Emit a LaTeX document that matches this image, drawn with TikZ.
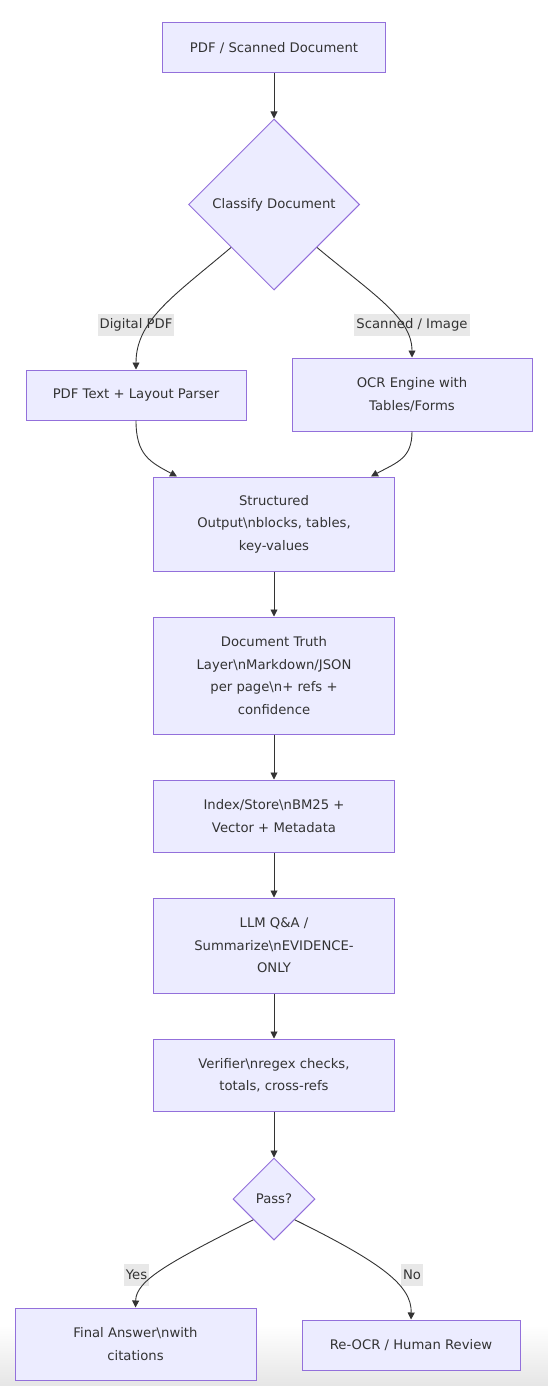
\documentclass[tikz,border=0pt]{standalone}
\usepackage{fontspec}
\setmainfont{DejaVu Sans}
\usetikzlibrary{shapes.geometric,arrows.meta}
\definecolor{nodefill}{HTML}{ECECFF}
\definecolor{nodeline}{HTML}{9370DB}
\definecolor{edgecol}{HTML}{333333}
\definecolor{labelbg}{HTML}{E8E8E8}
\tikzset{
  box/.style={draw=nodeline, fill=nodefill, line width=1pt, rectangle, align=center,
    inner sep=0pt, text=edgecol},
  dia/.style={draw=nodeline, fill=nodefill, line width=1pt, diamond, inner sep=0pt, text=edgecol},
  elabel/.style={fill=labelbg, text=edgecol, inner xsep=2pt, inner ysep=0pt, minimum height=22pt},
  edge/.style={draw=edgecol, line width=0.9pt, -{Triangle[length=7pt,width=7pt]}},
}
\begin{document}
\begin{tikzpicture}[x=1pt,y=-1pt, font=\fontsize{13.2}{22.5}\selectfont]
\useasboundingbox (0,0) rectangle (548,1386);
\shade[top color=white, bottom color=black!10] (0,1325) rectangle (548,1386);

\node[box, minimum width=223pt, minimum height=50pt] (A) at (274,48) {PDF / Scanned Document};
\node[dia, minimum width=171pt, minimum height=171pt] (cls) at (274,204.5) {Classify Document};
\node[box, minimum width=220pt, minimum height=50pt] (B) at (136,395) {PDF Text + Layout Parser};
\node[box, minimum width=240pt, minimum height=73pt] (C) at (412,394.5) {OCR Engine with\\Tables/Forms};
\node[box, minimum width=241pt, minimum height=94pt] (D) at (274,524) {Structured\\Output\textbackslash{}nblocks, tables,\\key-values};
\node[box, minimum width=241pt, minimum height=117pt] (E) at (274,675.5) {Document Truth\\Layer\textbackslash{}nMarkdown/JSON\\per page\textbackslash{}n+ refs +\\confidence};
\node[box, minimum width=241pt, minimum height=72pt] (F) at (274,816) {Index/Store\textbackslash{}nBM25 +\\Vector + Metadata};
\node[box, minimum width=241pt, minimum height=95pt] (G) at (274,945.5) {LLM Q\&A /\\Summarize\textbackslash{}nEVIDENCE-\\ONLY};
\node[box, minimum width=241pt, minimum height=72pt] (H) at (274,1075) {Verifier\textbackslash{}nregex checks,\\totals, cross-refs};
\node[dia, minimum width=82pt, minimum height=82pt] (pass) at (274,1199) {Pass?};
\node[box, minimum width=241pt, minimum height=72pt] (I) at (135.5,1344) {Final Answer\textbackslash{}nwith\\citations};
\node[box, minimum width=218pt, minimum height=50pt] (J) at (411,1345) {Re-OCR / Human Review};

\node[elabel] (l1) at (136,325) {Digital PDF};
\node[elabel] (l2) at (412,325) {Scanned / Image};
\node[elabel] (l3) at (136.5,1275) {Yes};
\node[elabel] (l4) at (412,1275) {No};

\draw[edge] (A.south) -- (cls.north);
\draw[edge] (cls.south west) .. controls (175,295) and (136,320) .. (B.north);
\draw[edge] (cls.south east) .. controls (374,295) and (412,318) .. (C.north);
\draw[edge] (B.south) .. controls (136,455) and (150,462) .. ([xshift=24pt]D.north west);
\draw[edge] (C.south) .. controls (412,458) and (398,462) .. ([xshift=-24pt]D.north east);
\draw[edge] (D.south) -- (E.north);
\draw[edge] (E.south) -- (F.north);
\draw[edge] (F.south) -- (G.north);
\draw[edge] (G.south) -- (H.north);
\draw[edge] (H.south) -- (pass.north);
\draw[edge] (pass.south west) .. controls (170,1262) and (136,1280) .. (I.north);
\draw[edge] (pass.south east) .. controls (380,1262) and (412,1285) .. (J.north);
\end{tikzpicture}
\end{document}
